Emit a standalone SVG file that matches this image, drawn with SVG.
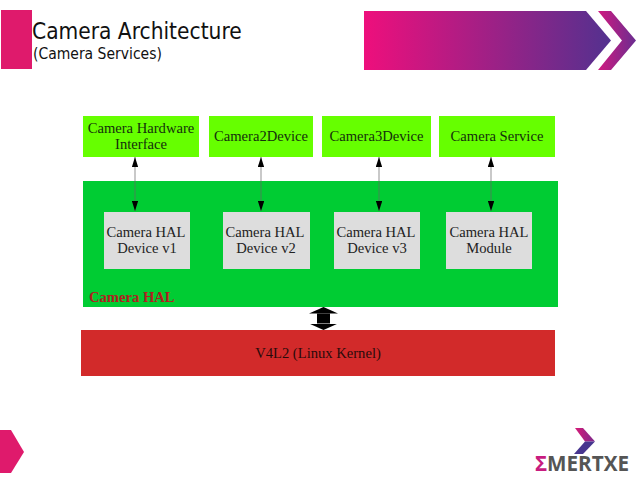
<svg xmlns="http://www.w3.org/2000/svg" width="638" height="478" viewBox="0 0 638 478">
<style>
.t{font-family:"Liberation Serif","Times New Roman",serif;font-size:14.6px;fill:#14300c;text-anchor:middle}
.d{fill:#222}
.g{fill:#66ff00}
.h{fill:#dddddd}
.c{stroke:#666;stroke-width:.7;fill:none;marker-start:url(#a);marker-end:url(#a)}
.b{stroke:#000;stroke-width:13;fill:none;marker-start:url(#w);marker-end:url(#w)}
.s{font-family:"DejaVu Sans",sans-serif;font-stretch:condensed;fill:#111}
.l{font-family:"Open Sans","DejaVu Sans",sans-serif;font-size:20.5px;font-weight:700}
</style>
<defs>
<linearGradient id="bar"><stop offset="0" stop-color="#ee0f7c"/><stop offset="1" stop-color="#53318f"/></linearGradient>
<linearGradient id="chev"><stop offset="0" stop-color="#d01a80"/><stop offset="1" stop-color="#6a2d90"/></linearGradient>
<linearGradient id="l1"><stop offset="0" stop-color="#d81b78"/><stop offset="1" stop-color="#7a2a8c"/></linearGradient>
<marker id="a" markerWidth="10" markerHeight="6.400" refX="10" refY="3.200" orient="auto-start-reverse" markerUnits="userSpaceOnUse"><path d="M10 3.200L0 0V6.400Z" fill="#000"/></marker>
<marker id="w" markerWidth="6.500" markerHeight="29" refX="0" refY="14.500" orient="auto-start-reverse" markerUnits="userSpaceOnUse"><path d="M6.500 14.500L0 0V29Z" fill="#000"/></marker>
</defs>
<g id="header">
<rect x="1" y="10" width="31" height="59" fill="#df1a6c"/>
<text class="s" x="32" y="38.500" font-size="22.500">Camera Architecture</text>
<text class="s" x="33" y="58.500" font-size="15.500">(Camera Services)</text>
<path d="M364 11H586L611 40.500L586 70H364Z" fill="url(#bar)"/>
<path d="M598 11H611L636 40.500L611 70H598L622 40.500Z" fill="url(#chev)"/>
</g>
<g id="footer">
<path d="M0 430H11L24 452L11 473H0Z" fill="#df1a6c"/>
<path d="M575 428H583L595 441.500H585Z" fill="url(#l1)"/>
<path d="M585 441.500H595L583 454H574Z" fill="#46358f"/>
<text class="l" x="535" y="471" fill="#c81c80">Σ</text>
<text class="l" x="547" y="471" fill="#555" textLength="82" lengthAdjust="spacingAndGlyphs">MERTXE</text>
</g>
<g id="hal-container"><rect x="83" y="181" width="475" height="126" fill="#00cc33"/>
<text x="89" y="301.500" font-family="'Liberation Serif',serif" font-size="14.600" font-weight="700" fill="#b02020">Camera HAL</text></g>
<g id="hw"><rect class="g" x="83" y="116" width="116" height="41"/><text class="t" x="141" y="133">Camera Hardware</text><text class="t" x="141" y="149">Interface</text></g>
<g id="cam2"><rect class="g" x="209" y="116" width="104" height="41"/><text class="t" x="261" y="141">Camera2Device</text></g>
<g id="cam3"><rect class="g" x="322" y="116" width="109" height="41"/><text class="t" x="376.500" y="141">Camera3Device</text></g>
<g id="svc"><rect class="g" x="439" y="116" width="116" height="41"/><text class="t" x="497" y="141">Camera Service</text></g>
<g id="hal1"><rect class="h" x="104" y="212" width="86" height="57"/><text class="t d" x="146" y="237">Camera HAL</text><text class="t d" x="147" y="253">Device v1</text></g>
<g id="hal2"><rect class="h" x="223" y="212" width="87" height="57"/><text class="t d" x="265" y="237">Camera HAL</text><text class="t d" x="266" y="253">Device v2</text></g>
<g id="hal3"><rect class="h" x="334" y="212" width="86" height="57"/><text class="t d" x="376" y="237">Camera HAL</text><text class="t d" x="377" y="253">Device v3</text></g>
<g id="halm"><rect class="h" x="446" y="212" width="86" height="57"/><text class="t d" x="489" y="237">Camera HAL</text><text class="t d" x="489" y="253">Module</text></g>
<g id="v4l2"><rect x="81" y="330" width="474" height="46" fill="#d22a2a"/><text class="t" x="318" y="358" style="fill:#2a0a0a">V4L2 (Linux Kernel)</text></g>
<g id="connectors">
<line class="c" x1="135" y1="157" x2="135" y2="211"/>
<line class="c" x1="261" y1="157" x2="261" y2="211"/>
<line class="c" x1="379" y1="157" x2="379" y2="211"/>
<line class="c" x1="491" y1="157" x2="491" y2="211"/>
<line class="b" x1="323.500" y1="313.500" x2="323.500" y2="323.500"/>
</g>
</svg>
